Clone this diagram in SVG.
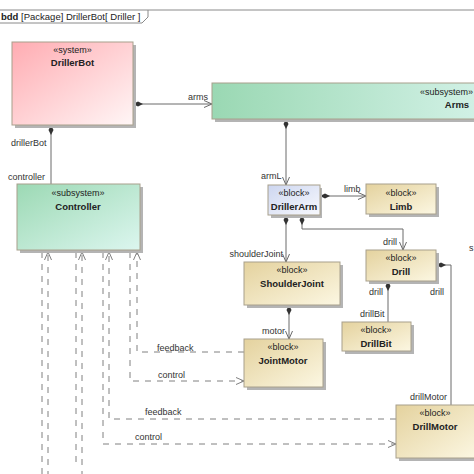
<svg xmlns="http://www.w3.org/2000/svg" width="474" height="474" viewBox="0 0 474 474">
<style>
text{font-family:"Liberation Sans",Arial,sans-serif;fill:#222}
.st{font-size:9px;text-anchor:middle}
.nm{font-size:9.5px;font-weight:bold;text-anchor:middle}
.lb{font-size:9px;fill:#333}
.box{stroke:#a8a08c;stroke-width:1}
.sh{fill:#b4b4b4}
.ln{fill:none;stroke:#6a6a6a;stroke-width:1}
.dl{fill:none;stroke:#808080;stroke-width:1;stroke-dasharray:6 6}
</style>
<defs>
<linearGradient id="gPink" x1="0" y1="0" x2="1" y2="1"><stop offset="0" stop-color="#ffacb2"/><stop offset="1" stop-color="#fff6f6"/></linearGradient>
<linearGradient id="gGreen" x1="0" y1="0" x2="1" y2="1"><stop offset="0" stop-color="#9cd9b4"/><stop offset="1" stop-color="#dcf6ef"/></linearGradient>
<linearGradient id="gArms" x1="0" y1="0" x2="1" y2="0"><stop offset="0" stop-color="#9ad8b3"/><stop offset="1" stop-color="#d2f1e6"/></linearGradient>
<linearGradient id="gBlue" x1="0" y1="0" x2="1" y2="1"><stop offset="0" stop-color="#cdd6f0"/><stop offset="1" stop-color="#f8f9fd"/></linearGradient>
<linearGradient id="gTan" x1="0" y1="0" x2="1" y2="1"><stop offset="0" stop-color="#e4d29e"/><stop offset="1" stop-color="#fcf7e2"/></linearGradient>
<marker id="dia" markerUnits="userSpaceOnUse" markerWidth="11" markerHeight="7" refX="0" refY="3" orient="auto" overflow="visible"><path d="M0,3 L5,0.5 L10,3 L5,5.5 Z" fill="#333"/></marker>
<marker id="arr" markerUnits="userSpaceOnUse" markerWidth="9" markerHeight="8" refX="8" refY="3.5" orient="auto" overflow="visible"><path d="M0,0 L8,3.5 L0,7" fill="none" stroke="#6a6a6a" stroke-width="1"/></marker>
<marker id="arrD" markerUnits="userSpaceOnUse" markerWidth="9" markerHeight="8" refX="8" refY="3.5" orient="auto" overflow="visible"><path d="M0,0 L8,3.5 L0,7" fill="none" stroke="#808080" stroke-width="1"/></marker>
</defs>
<rect width="474" height="474" fill="#fff"/>
<g id="frame">
<path d="M0,10 L474,10" stroke="#8a8a8a" fill="none"/>
<path d="M-2,23 L142,23 L148,17 L148,10" stroke="#8a8a8a" fill="none"/>
<text x="1" y="20" style="font-size:9.5px"><tspan font-weight="bold">bdd</tspan> [Package] DrillerBot[ Driller ]</text>
</g>
<g id="connectors">
<path class="ln" d="M133,104 L212,104" marker-start="url(#dia)" marker-end="url(#arr)"/>
<path class="ln" d="M51,125 L51,184" marker-start="url(#dia)"/>
<path class="ln" d="M286,119 L286,185" marker-start="url(#dia)" marker-end="url(#arr)"/>
<path class="ln" d="M320,196 L366,196" marker-start="url(#dia)" marker-end="url(#arr)"/>
<path class="ln" d="M286,215 L286,262" marker-start="url(#dia)" marker-end="url(#arr)"/>
<path class="ln" d="M302,215 L302,229 L403,229 L403,250" marker-start="url(#dia)" marker-end="url(#arr)"/>
<path class="ln" d="M388,281 L388,322" marker-start="url(#dia)"/>
<path class="ln" d="M436,265 L451,265 L451,405" marker-start="url(#dia)"/>
<path class="ln" d="M289,305 L289,339" marker-start="url(#dia)" marker-end="url(#arr)"/>
<path class="dl" d="M42,252 L42,474"/>
<path class="dl" d="M48,474 L48,252" stroke-dashoffset="3" marker-end="url(#arrD)"/>
<path class="dl" d="M76,252 L76,468"/>
<path class="dl" d="M82,474 L82,252" stroke-dashoffset="3" marker-end="url(#arrD)"/>
<path class="dl" d="M103,252 L103,444 L396,444" marker-end="url(#arrD)"/>
<path class="dl" d="M396,419 L109,419 L109,252" marker-end="url(#arrD)"/>
<path class="dl" d="M130,252 L130,381 L244,381" marker-end="url(#arrD)"/>
<path class="dl" d="M244,352 L137,352 L137,252" marker-end="url(#arrD)"/>
<text class="lb" x="188" y="100">arms</text>
<text class="lb" x="11" y="146">drillerBot</text>
<text class="lb" x="8" y="180">controller</text>
<text class="lb" x="261" y="179">armL</text>
<text class="lb" x="344" y="192">limb</text>
<text class="lb" x="283" y="257" style="text-anchor:end">shoulderJoint</text>
<text class="lb" x="383" y="245">drill</text>
<text class="lb" x="369" y="295">drill</text>
<text class="lb" x="360" y="317">drillBit</text>
<text class="lb" x="430" y="295">drill</text>
<text class="lb" x="410" y="400">drillMotor</text>
<text class="lb" x="262" y="334">motor</text>
<text class="lb" x="469" y="251">s</text>
<text class="lb" x="157" y="351">feedback</text>
<text class="lb" x="158" y="378">control</text>
<text class="lb" x="145" y="415">feedback</text>
<text class="lb" x="135" y="440">control</text>
</g>
<g id="DrillerBot">
<rect class="sh" x="15" y="45" width="121" height="83"/>
<rect class="box" x="12" y="42" width="121" height="83" fill="url(#gPink)"/>
<text class="st" x="72.5" y="53">«system»</text>
<text class="nm" x="72.5" y="66">DrillerBot</text>
</g>
<g id="Arms">
<rect class="sh" x="215" y="86" width="270" height="36"/>
<rect class="box" x="212" y="83" width="270" height="36" fill="url(#gArms)"/>
<text class="st" x="473" y="95" style="text-anchor:end">«subsystem»</text>
<text class="nm" x="457" y="108">Arms</text>
</g>
<g id="Controller">
<rect class="sh" x="20" y="187" width="123" height="66"/>
<rect class="box" x="17" y="184" width="123" height="66" fill="url(#gGreen)"/>
<text class="st" x="78" y="196">«subsystem»</text>
<text class="nm" x="78" y="210">Controller</text>
</g>
<g id="DrillerArm">
<rect class="sh" x="271" y="188" width="51" height="30"/>
<rect class="box" x="268" y="185" width="52" height="30" fill="url(#gBlue)"/>
<text class="st" x="294" y="196">«block»</text>
<text class="nm" x="294" y="209.5">DrillerArm</text>
</g>
<g id="Limb">
<rect class="sh" x="369" y="187" width="70" height="30"/>
<rect class="box" x="366" y="184" width="70" height="30" fill="url(#gTan)"/>
<text class="st" x="401" y="196">«block»</text>
<text class="nm" x="401" y="209.5">Limb</text>
</g>
<g id="ShoulderJoint">
<rect class="sh" x="247" y="265" width="96" height="43"/>
<rect class="box" x="244" y="262" width="96" height="43" fill="url(#gTan)"/>
<text class="st" x="292" y="273">«block»</text>
<text class="nm" x="292" y="286.5">ShoulderJoint</text>
</g>
<g id="Drill">
<rect class="sh" x="369" y="253" width="70" height="31"/>
<rect class="box" x="366" y="250" width="70" height="31" fill="url(#gTan)"/>
<text class="st" x="401" y="261">«block»</text>
<text class="nm" x="401" y="274.5">Drill</text>
</g>
<g id="DrillBit">
<rect class="sh" x="345" y="325" width="69" height="29"/>
<rect class="box" x="342" y="322" width="69" height="29" fill="url(#gTan)"/>
<text class="st" x="376" y="333">«block»</text>
<text class="nm" x="376" y="346.5">DrillBit</text>
</g>
<g id="JointMotor">
<rect class="sh" x="247" y="342" width="79" height="48"/>
<rect class="box" x="244" y="339" width="79" height="48" fill="url(#gTan)"/>
<text class="st" x="283" y="350">«block»</text>
<text class="nm" x="283" y="364">JointMotor</text>
</g>
<g id="DrillMotor">
<rect class="sh" x="399" y="408" width="80" height="53"/>
<rect class="box" x="396" y="405" width="80" height="53" fill="url(#gTan)"/>
<text class="st" x="435" y="416">«block»</text>
<text class="nm" x="435" y="430">DrillMotor</text>
</g>
</svg>
